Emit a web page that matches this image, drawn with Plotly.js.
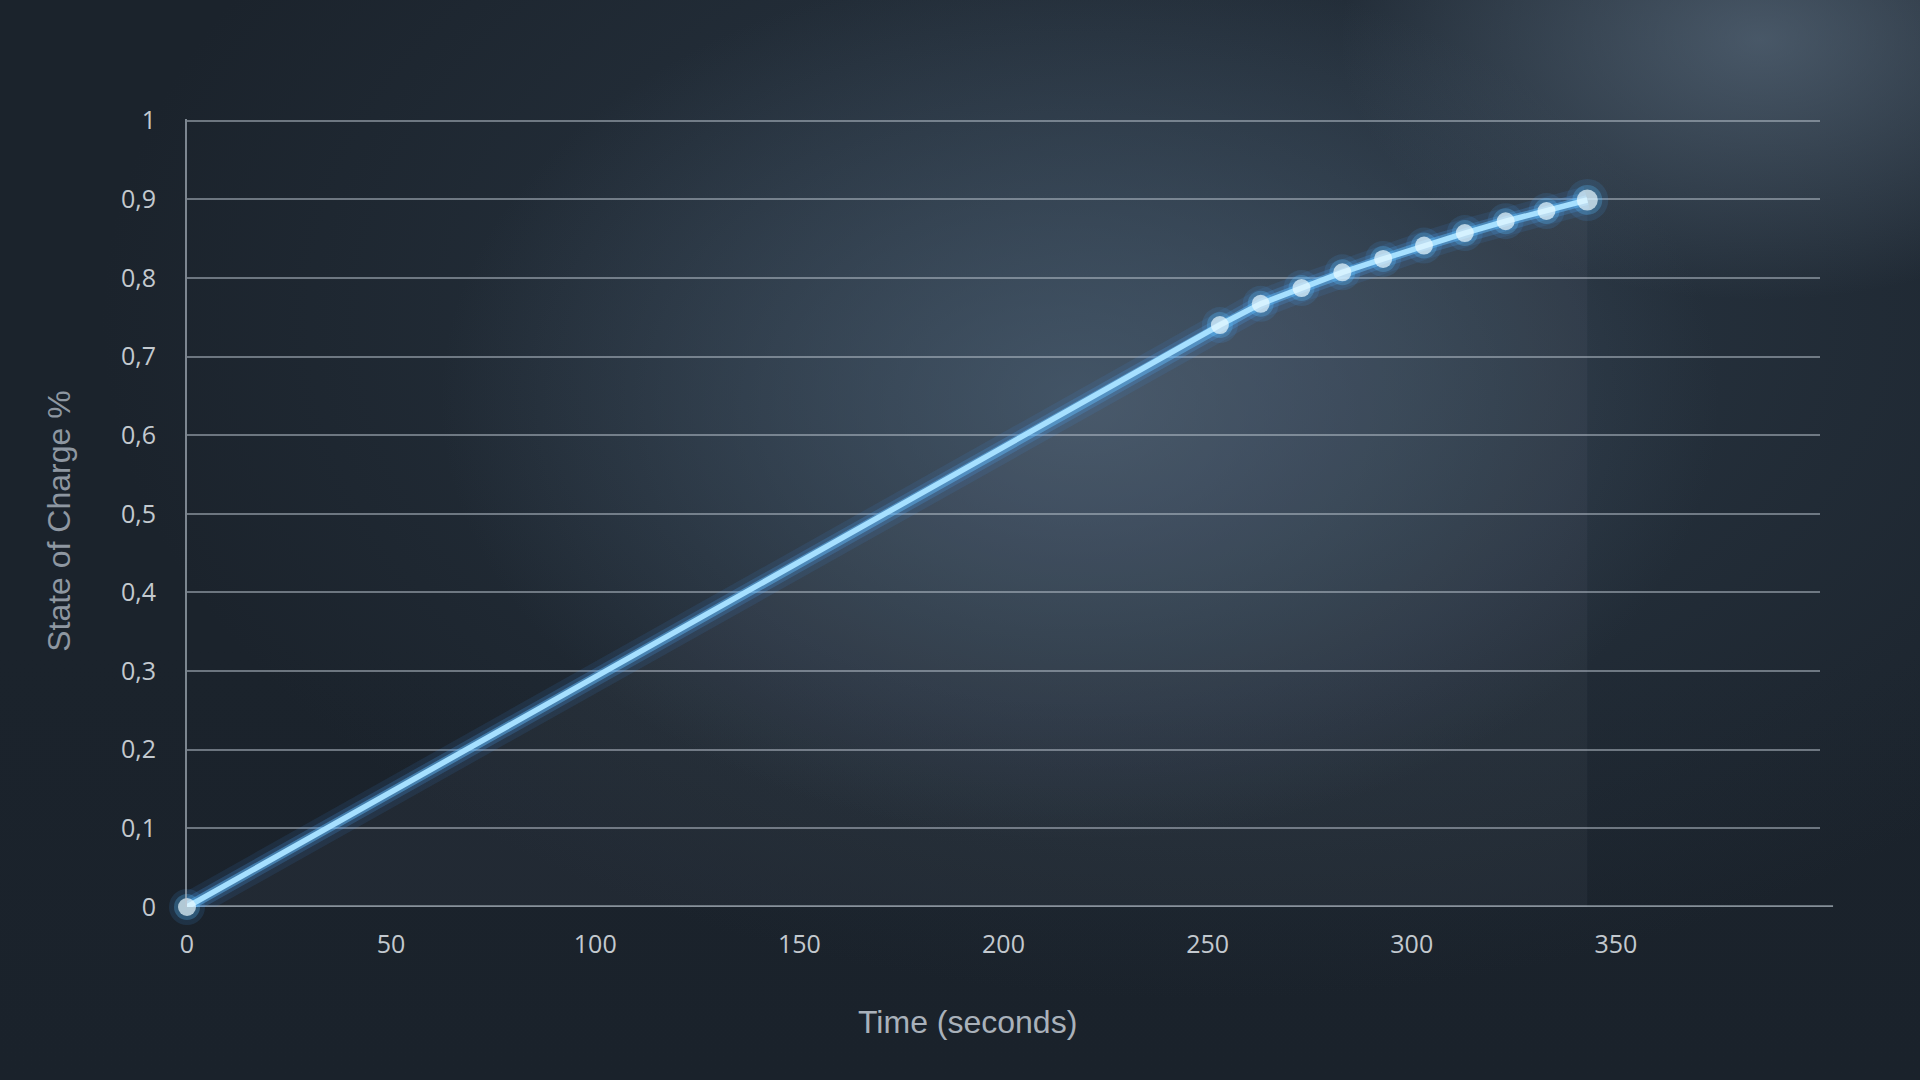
<!DOCTYPE html>
<html>
<head>
<meta charset="utf-8">
<script src="https://cdn.plot.ly/plotly-3.0.1.min.js"></script>
<style>
html, body { margin:0; padding:0; width:1920px; height:1080px; overflow:hidden; }
body {
  background:
    radial-gradient(ellipse 420px 260px at 1760px 40px, rgba(105,125,145,0.55), rgba(95,115,135,0) 100%),
    radial-gradient(ellipse 640px 440px at 1080px 400px, rgba(78,98,118,0.7), rgba(60,78,96,0) 100%),
    radial-gradient(ellipse 1100px 680px at 1200px 320px, rgba(48,63,78,0.75), rgba(40,52,65,0) 100%),
    linear-gradient(180deg, #1b232c 0%, #1b232c 60%, #1a222b 100%);
}
#chart { width:1920px; height:1080px; }
</style>
</head>
<body>
<div id="chart"></div>
<script>
// Data
const timeSec = [0, 253, 263, 273, 283, 293, 303, 313, 323, 333, 343];
const soc     = [0, 0.74, 0.767, 0.787, 0.807, 0.824, 0.841, 0.857, 0.872, 0.885, 0.899];
const xTicks  = [0, 50, 100, 150, 200, 250, 300, 350];
const yTicks  = [0, 0.1, 0.2, 0.3, 0.4, 0.5, 0.6, 0.7, 0.8, 0.9, 1];
const yTickLabels = ['0', '0,1', '0,2', '0,3', '0,4', '0,5', '0,6', '0,7', '0,8', '0,9', '1'];
const xTitle = 'Time (seconds)';
const yTitle = 'State of Charge %';

const last = timeSec.length - 1;
const coreSizes = timeSec.map((_, i) => i === last ? 21 : 18);
const glow1 = timeSec.map((_, i) => i === last ? 42 : 36);
const glow2 = timeSec.map((_, i) => i === last ? 30 : 26);

const traces = [
  { x: timeSec, y: soc, mode: 'lines', fill: 'tozeroy',
    fillcolor: 'rgba(200,220,240,0.045)', line: { width: 0 }, hoverinfo: 'skip' },
  { x: timeSec, y: soc, mode: 'lines', line: { color: 'rgba(70,160,255,0.10)', width: 28 }, hoverinfo: 'skip' },
  { x: timeSec, y: soc, mode: 'lines', line: { color: 'rgba(80,170,255,0.20)', width: 17 }, hoverinfo: 'skip' },
  { x: timeSec, y: soc, mode: 'lines', line: { color: 'rgba(100,190,255,0.45)', width: 10 }, hoverinfo: 'skip' },
  { x: timeSec, y: soc, mode: 'markers', cliponaxis: false, marker: { size: glow1, color: 'rgba(70,170,255,0.18)', line: { width: 0 } }, hoverinfo: 'skip' },
  { x: timeSec, y: soc, mode: 'markers', cliponaxis: false, marker: { size: glow2, color: 'rgba(90,190,255,0.38)', line: { width: 0 } }, hoverinfo: 'skip' },
  { x: timeSec, y: soc, mode: 'lines', line: { color: '#a6e0ff', width: 5.5 } },
  { x: timeSec, y: soc, mode: 'markers', cliponaxis: false, marker: { size: coreSizes, color: '#e9f9ff', line: { width: 0 } } }
];

const layout = {
  width: 1920, height: 1080,
  paper_bgcolor: 'rgba(0,0,0,0)', plot_bgcolor: 'rgba(0,0,0,0)',
  showlegend: false,
  margin: { l: 187, r: 100, t: 119, b: 173 },
  font: { family: 'Open Sans, sans-serif', color: '#c3c9cf' },
  xaxis: {
    range: [0, 400], tickvals: xTicks, showgrid: false, zeroline: false, showline: false,
    ticks: '', ticklabelstandoff: 20, tickfont: { size: 25, color: '#c3c9cf' },
    title: { text: '' }
  },
  yaxis: {
    range: [0, 1.002], tickvals: yTicks, ticktext: yTickLabels,
    showgrid: true, gridcolor: 'rgba(190,200,210,0.5)', gridwidth: 2,
    zeroline: false, showline: true, linecolor: 'rgba(190,200,210,0.6)', linewidth: 2,
    ticks: '', ticklabelstandoff: 24, tickfont: { size: 25, color: '#c3c9cf' },
    title: { text: '' }
  },
  annotations: [
    { text: xTitle, xref: 'paper', yref: 'paper', x: 0.478, y: -0.146, xanchor: 'center', yanchor: 'middle',
      showarrow: false, font: { size: 32, color: '#a9b1ba', family: 'Liberation Sans, Arial, sans-serif' } },
    { text: yTitle, xref: 'paper', yref: 'paper', x: -0.0784, y: 0.49, xanchor: 'center', yanchor: 'middle',
      textangle: -90, showarrow: false, font: { size: 32, color: '#8e97a1', family: 'Liberation Sans, Arial, sans-serif' } }
  ],
  shapes: [
    { type: 'line', xref: 'paper', yref: 'y', x0: 0, x1: 1.008, y0: 0, y1: 0,
      line: { color: 'rgba(170,180,190,0.75)', width: 3.5 }, layer: 'below' }
  ]
};

Plotly.newPlot('chart', traces, layout, { displayModeBar: false, staticPlot: true });
</script>
</body>
</html>
